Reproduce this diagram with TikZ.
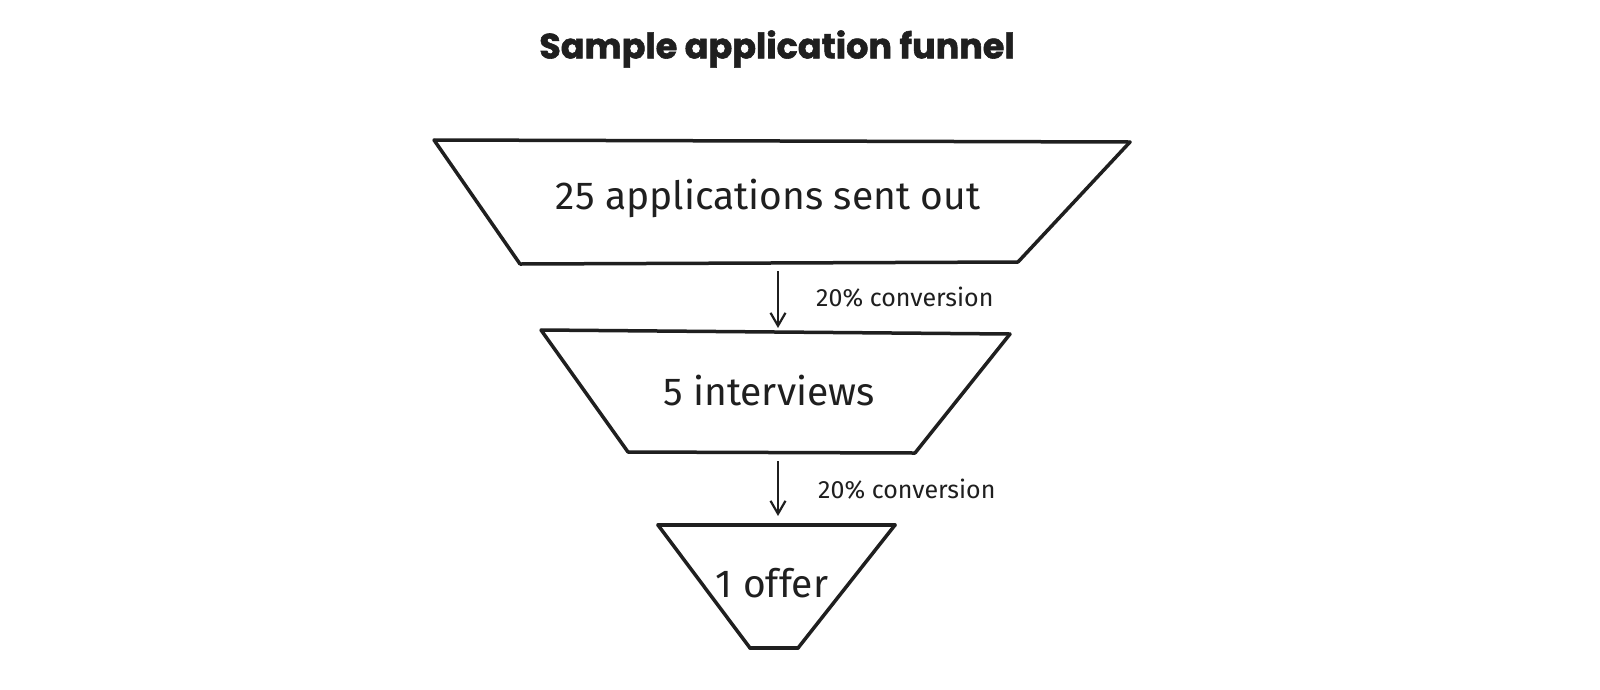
\documentclass[tikz,border=0pt]{standalone}
\usepackage{fontspec}
\setmainfont{Fira Sans}
\newfontfamily\titlefont[BoldFeatures={FakeBold=1.6}]{Poppins}
\usetikzlibrary{arrows.meta}
\tikzset{
  edge/.style={line width=3.5pt, line cap=round, draw=black!88},
  flow/.style={line width=2.2pt, draw=black!88, -{Straight Barb[length=13pt,width=15pt,line width=2.2pt]}},
  label/.style={font=\fontsize{39}{44}\selectfont, text=black!88, inner sep=0pt},
  small/.style={font=\fontsize{25}{28}\selectfont, text=black!88, inner sep=0pt, anchor=west},
}
\begin{document}
\begin{tikzpicture}[x=1pt,y=-1pt]
\useasboundingbox (0,0) rectangle (1600,689);
\fill[white] (0,0) rectangle (1600,689);
% title
\node[font=\titlefont\bfseries\fontsize{35}{40}\selectfont, text=black!88, inner sep=0pt] (title) at (777,49) {Sample application funnel};
% top stage
\coordinate (t1) at (434,140); \coordinate (t2) at (1130,142);
\coordinate (t3) at (1018,262); \coordinate (t4) at (520,264);
\draw[edge] (t1) -- (t2); \draw[edge] (t1) -- (t4);
\draw[edge] (t4) -- (t3); \draw[edge] (t2) -- (t3);
\node[label] (s1) at (768,198) {25 applications sent out};
% middle stage
\coordinate (m1) at (541,330); \coordinate (m2) at (1010,334);
\coordinate (m3) at (915,453); \coordinate (m4) at (628,452);
\draw[edge] (m1) -- (m2); \draw[edge] (m1) -- (m4);
\draw[edge] (m4) -- (m3); \draw[edge] (m2) -- (m3);
\node[label] (s2) at (769,391) {5 interviews};
% bottom stage
\coordinate (b1) at (658,525); \coordinate (b2) at (895,525);
\coordinate (b3) at (798,648); \coordinate (b4) at (750,648);
\draw[edge] (b1) -- (b2); \draw[edge] (b1) -- (b4);
\draw[edge] (b4) -- (b3); \draw[edge] (b2) -- (b3);
\node[label] (s3) at (772,583) {1 offer};
% arrows
\coordinate (a1s) at (778,271); \coordinate (a1e) at (778,328);
\coordinate (a2s) at (778,461); \coordinate (a2e) at (778,516);
\draw[flow] (a1s) -- (a1e);
\draw[flow] (a2s) -- (a2e);
\node[small] (c1) at (816,297) {20\% conversion};
\node[small] (c2) at (818,489) {20\% conversion};
\end{tikzpicture}
\end{document}
